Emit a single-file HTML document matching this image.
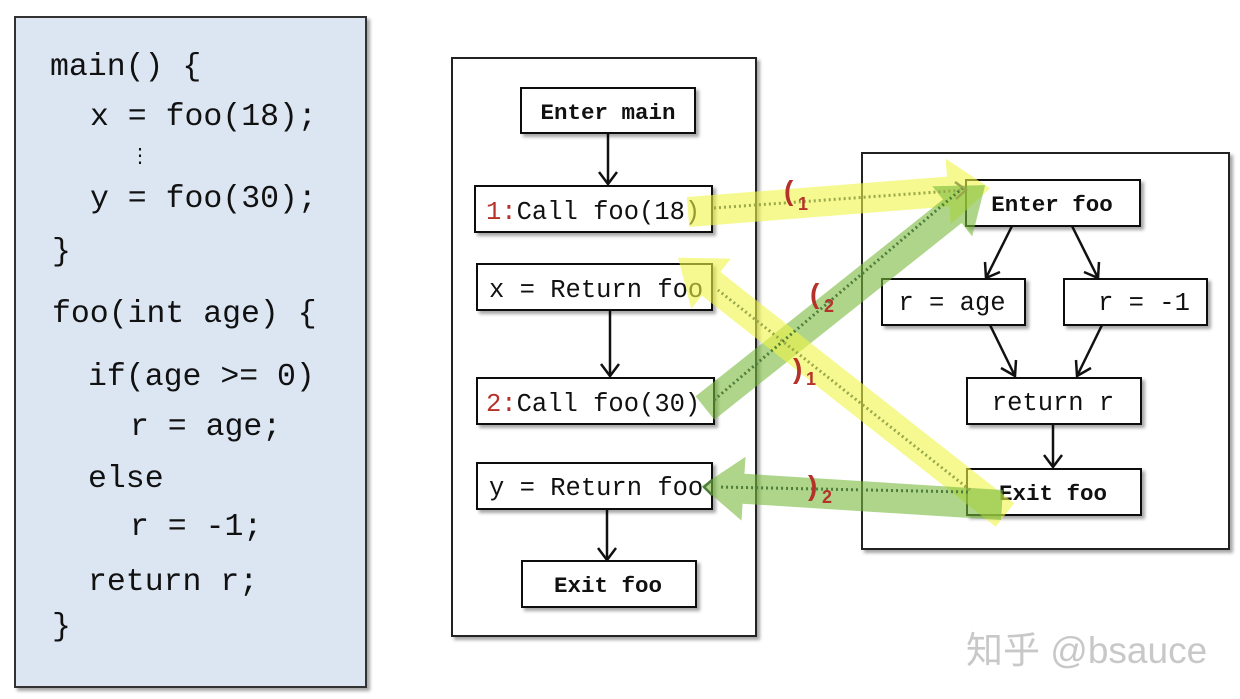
<!DOCTYPE html>
<html><head><meta charset="utf-8"><style>
html,body{margin:0;padding:0;background:#fff;width:1240px;height:699px;overflow:hidden}
</style></head><body>
<svg width="1240" height="699" viewBox="0 0 1240 699" xmlns="http://www.w3.org/2000/svg" font-family="'Liberation Mono','DejaVu Sans Mono',monospace">
<defs>
<filter id="sh" x="-10%" y="-10%" width="130%" height="130%"><feDropShadow dx="3" dy="3" stdDeviation="1.5" flood-color="#000" flood-opacity="0.35"/></filter>
</defs>
<rect x="15" y="17" width="351" height="670" fill="#dce6f2" stroke="#333" stroke-width="2" filter="url(#sh)"/>
<g font-size="31.5" fill="#111">
<text x="50" y="75">main() {</text>
<text x="90" y="125">x = foo(18);</text>
<text x="130" y="162" font-size="20">⋮</text>
<text x="90" y="207">y = foo(30);</text>
<text x="52" y="260">}</text>
<text x="52" y="322">foo(int age) {</text>
<text x="88" y="385">if(age &gt;= 0)</text>
<text x="130" y="435">r = age;</text>
<text x="88" y="487">else</text>
<text x="130" y="535">r = -1;</text>
<text x="88" y="590">return r;</text>
<text x="52" y="635">}</text>
</g>
<rect x="452" y="58" width="304" height="578" fill="#fff" stroke="#222" stroke-width="2" filter="url(#sh)"/>
<rect x="862" y="153" width="367" height="396" fill="#fff" stroke="#222" stroke-width="2" filter="url(#sh)"/>
<g stroke="#111" stroke-width="2.5" fill="none">
<line x1="608" y1="133" x2="608" y2="182"/><polyline points="599,172 608,184 617,172"/>
<line x1="610" y1="310" x2="610" y2="374"/><polyline points="601,364 610,376 619,364"/>
<line x1="607" y1="509" x2="607" y2="558"/><polyline points="598,548 607,560 616,548"/>
<line x1="1012" y1="226" x2="987" y2="276"/><polyline points="985,262 986,278 1000,272"/>
<line x1="1072" y1="226" x2="1097" y2="276"/><polyline points="1084,272 1098,278 1099,262"/>
<line x1="990" y1="325" x2="1014" y2="374"/><polyline points="1001,368 1015,376 1016,360"/>
<line x1="1102" y1="325" x2="1078" y2="374"/><polyline points="1076,360 1077,376 1091,368"/>
<line x1="1053" y1="424" x2="1053" y2="465"/><polyline points="1044,455 1053,467 1062,455"/>
</g>
<g fill="#fff" stroke="#111" stroke-width="2" filter="url(#sh)">
<rect x="521" y="88" width="174" height="45"/>
<rect x="475" y="186" width="237" height="46"/>
<rect x="477" y="264" width="235" height="46"/>
<rect x="477" y="378" width="237" height="46"/>
<rect x="477" y="463" width="235" height="46"/>
<rect x="522" y="561" width="174" height="46"/>
<rect x="966" y="180" width="174" height="46"/>
<rect x="882" y="279" width="143" height="46"/>
<rect x="1064" y="279" width="143" height="46"/>
<rect x="967" y="378" width="174" height="46"/>
<rect x="967" y="469" width="174" height="46"/>
</g>
<g font-size="25.5" fill="#111">
<text x="608" y="119" text-anchor="middle" font-weight="bold" font-size="22.5">Enter main</text>
<text x="486" y="219"><tspan fill="#b5322a">1:</tspan>Call foo(18)</text>
<text x="489" y="297">x = Return foo</text>
<text x="486" y="411"><tspan fill="#b5322a">2:</tspan>Call foo(30)</text>
<text x="489" y="495">y = Return foo</text>
<text x="608" y="592" text-anchor="middle" font-weight="bold" font-size="22.5">Exit foo</text>
<text x="1052" y="211" text-anchor="middle" font-weight="bold" font-size="22.5">Enter foo</text>
<text x="952" y="310" text-anchor="middle">r = age</text>
<text x="1144" y="310" text-anchor="middle">r = -1</text>
<text x="1053" y="410" text-anchor="middle">return r</text>
<text x="1053" y="500" text-anchor="middle" font-weight="bold" font-size="22.5">Exit foo</text>
</g>
<g>
<path transform="translate(688,212) rotate(-4.5)" d="M0,-15 L261,-15 L261,-33 L303,0 L261,33 L261,15 L0,15 Z" fill="rgba(240,245,70,0.6)"/>
<path transform="translate(705,408) rotate(-38.5)" d="M0,-15 L316,-15 L316,-32 L358,0 L316,32 L316,15 L0,15 Z" fill="rgba(120,185,60,0.6)"/>
<path transform="translate(1005,515) rotate(218.2)" d="M0,-15 L374,-15 L374,-32 L416,0 L374,32 L374,15 L0,15 Z" fill="rgba(240,245,70,0.6)"/>
<path transform="translate(1002,505) rotate(183.6)" d="M0,-15 L259,-15 L259,-32 L301,0 L259,32 L259,15 L0,15 Z" fill="rgba(120,185,60,0.6)"/>
</g>
<g stroke-width="3" stroke-dasharray="2,3" fill="none">
<line x1="714" y1="208" x2="965" y2="190" stroke="#9aa84a"/>
<line x1="714" y1="400" x2="965" y2="186" stroke="#4f7d3a"/>
<line x1="970" y1="490" x2="718" y2="290" stroke="#9aa84a"/>
<line x1="968" y1="492" x2="718" y2="487" stroke="#4f7d3a"/>
</g>
<g stroke-width="2.5" fill="none">
<polyline points="955,182 966,190 956,199" stroke="#9aa84a"/>
<polyline points="712,480 704,487 712,495" stroke="#4f7d3a"/>
</g>
<g fill="#b5322a" font-family="'Liberation Sans',sans-serif" font-weight="bold">
<text x="784" y="200" font-size="28">(</text><text x="798" y="210" font-size="18">1</text>
<text x="810" y="303" font-size="28">(</text><text x="824" y="312" font-size="18">2</text>
<text x="793" y="378" font-size="28">)</text><text x="806" y="385" font-size="18">1</text>
<text x="808" y="495" font-size="28">)</text><text x="822" y="503" font-size="18">2</text>
</g>
<text x="966" y="663" font-size="37" fill="#c8c8c8" font-family="'Liberation Sans','Noto Sans CJK SC',sans-serif">知乎 @bsauce</text>
</svg>
</body></html>
